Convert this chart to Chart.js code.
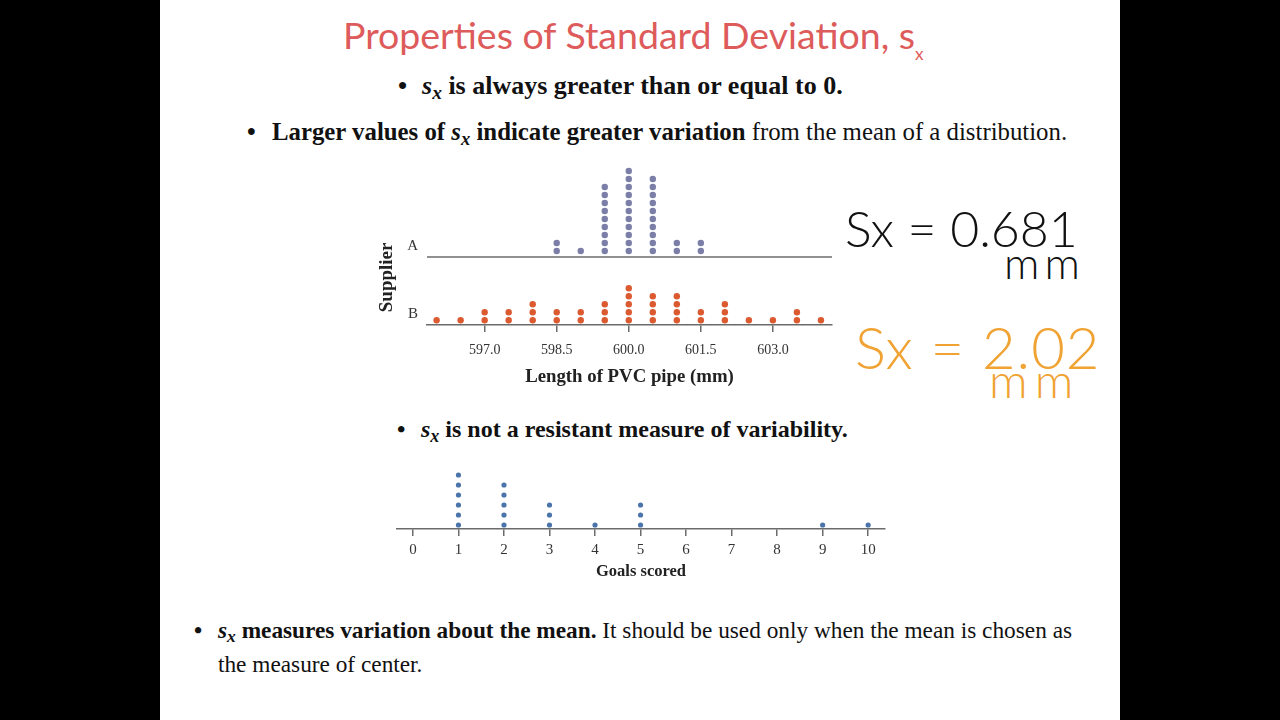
<!DOCTYPE html>
<html>
<head>
<meta charset="utf-8">
<script src="https://cdn.jsdelivr.net/npm/chart.js@4.4.0/dist/chart.umd.min.js"></script>
<style>
html, body { margin: 0; padding: 0; background: #000; width: 1280px; height: 720px; overflow: hidden; }
#slide { position: absolute; left: 160px; top: 0; width: 960px; height: 720px; background: #fff; }
.t { position: absolute; white-space: nowrap; font-family: "Liberation Serif", serif; color: #111; line-height: 1; }
.b { font-weight: bold; }
.t sub { font-size: 0.75em; line-height: 0; vertical-align: -0.25em; }
.hand { position: absolute; white-space: pre; font-family: Lato, sans-serif; font-weight: 300; }
#sdA { left: 845px; top: 211px; font-size: 44px; line-height: 34px; color: #111; letter-spacing: 5px; padding-left: 159px; text-indent: -159px; }
#sdA::first-line { font-size: 50px; letter-spacing: 0; }
#sdB { left: 855px; top: 330px; font-size: 48px; line-height: 33px; color: #f0a232; letter-spacing: 7px; padding-left: 134px; text-indent: -134px; }
#sdB::first-line { font-size: 58px; letter-spacing: 1px; }
.box { position: absolute; }
</style>
</head>
<body>
<div id="slide"></div>

<div class="t" style="left:343px;top:16px;font-family:Lato,sans-serif;font-size:37.5px;color:#de5b5b;">Properties of Standard Deviation, s<sub style="font-size:17px;vertical-align:-11px;">x</sub></div>

<div class="t b" style="left:398px;top:73px;font-size:26px;">•</div>
<div class="t b" style="left:422px;top:73px;font-size:26px;"><i>s<sub>x</sub></i> is always greater than or equal to 0.</div>

<div class="t b" style="left:247px;top:120px;font-size:24.8px;">•</div>
<div class="t" style="left:272px;top:120px;font-size:24.8px;"><b>Larger values of <i>s<sub>x</sub></i> indicate greater variation</b> from the mean of a distribution.</div>

<div class="t b" style="left:397px;top:417px;font-size:24px;">•</div>
<div class="t b" style="left:421px;top:417px;font-size:24px;"><i>s<sub>x</sub></i> is not a resistant measure of variability.</div>

<div class="t b" style="left:194px;top:619px;font-size:23.3px;">•</div>
<div class="t" style="left:218px;top:619px;font-size:23.3px;"><b><i>s<sub>x</sub></i> measures variation about the mean.</b> It should be used only when the mean is chosen as</div>
<div class="t" style="left:218px;top:653px;font-size:23.3px;">the measure of center.</div>

<div class="hand" id="sdA">Sx = 0.681
mm</div>
<div class="hand" id="sdB">Sx = 2.02
mm</div>

<div class="box" style="left:370px;top:160px;width:470px;height:240px;"><canvas id="pipeChart"></canvas></div>
<div class="box" style="left:390px;top:460px;width:510px;height:130px;"><canvas id="goalsChart"></canvas></div>

<script>
// pipe lengths (mm) and how many pipes of each length
const supplierALengths = [598.5, 599.0, 599.5, 600.0, 600.5, 601.0, 601.5];
const supplierACounts = [2, 1, 9, 11, 10, 2, 2];
const supplierBLengths = [596.0, 596.5, 597.0, 597.5, 598.0, 598.5, 599.0, 599.5, 600.0, 600.5, 601.0, 601.5, 602.0, 602.5, 603.0, 603.5, 604.0];
const supplierBCounts = [1, 1, 2, 2, 3, 2, 2, 3, 5, 4, 4, 2, 3, 1, 1, 2, 1];
const pipeTicks = [597.0, 598.5, 600.0, 601.5, 603.0];
const supplierLabels = ['B', 'A'];

// goals scored
const goalValues = [0, 1, 2, 3, 4, 5, 6, 7, 8, 9, 10];
const goalCounts = [0, 6, 5, 3, 1, 3, 0, 0, 0, 1, 1];

const ROW_GAP = 8.5;
const serif = 'Liberation Serif';

function stackDots(values, counts, base, lift) {
    var pts = [];
    values.forEach(function (v, i) {
        for (var k = 0; k < counts[i]; k++) pts.push({ x: v, y: base + lift + k });
    });
    return pts;
}

// baseline under supplier A + the "Supplier" axis title
const rowLines = {
    id: 'rowLines',
    beforeDatasetsDraw(chart) {
        const { ctx, chartArea, scales } = chart;
        supplierLabels.forEach(function (l, i) {
            if (i === 0) return;
            const y = scales.y.getPixelForValue(i * ROW_GAP);
            ctx.save();
            ctx.strokeStyle = '#6b6b6b';
            ctx.lineWidth = 1.5;
            ctx.beginPath();
            ctx.moveTo(chartArea.left, y);
            ctx.lineTo(chartArea.right, y);
            ctx.stroke();
            ctx.restore();
        });
        ctx.save();
        ctx.translate(scales.y.left + 17, scales.y.getPixelForValue(ROW_GAP * 0.7));
        ctx.rotate(-Math.PI / 2);
        ctx.font = 'bold 19px "Liberation Serif"';
        ctx.fillStyle = '#222';
        ctx.textAlign = 'center';
        ctx.textBaseline = 'middle';
        ctx.fillText('Supplier', 0, 0);
        ctx.restore();
    }
};

function noEdgePadding(s) {
    s.paddingTop = 0;
    s.paddingBottom = 0;
}

new Chart(document.getElementById('pipeChart'), {
    type: 'scatter',
    data: {
        datasets: [{
            label: 'A',
            data: stackDots(supplierALengths, supplierACounts, ROW_GAP, 0.75),
            backgroundColor: '#7b7ea6',
            borderWidth: 0,
            pointRadius: 3.2
        }, {
            label: 'B',
            data: stackDots(supplierBLengths, supplierBCounts, 0, 0.6),
            backgroundColor: '#db5a30',
            borderWidth: 0,
            pointRadius: 3.2
        }]
    },
    options: {
        responsive: true,
        maintainAspectRatio: false,
        animation: false,
        layout: { padding: { top: 5, right: 8, left: 0, bottom: 0 } },
        plugins: { legend: { display: false }, tooltip: { enabled: false } },
        scales: {
            x: {
                type: 'linear',
                min: 595.8,
                max: 604.23,
                afterBuildTicks: function (s) { s.ticks = pipeTicks.map(function (v) { return { value: v }; }); },
                afterFit: function (s) { s.height = 75; },
                border: { color: '#6b6b6b', width: 1.5 },
                grid: { drawOnChartArea: false, drawTicks: true, tickLength: 7, color: '#6b6b6b', lineWidth: 1.5 },
                ticks: {
                    color: '#333', padding: 10, autoSkip: false, maxRotation: 0,
                    font: { family: serif, size: 14 },
                    callback: function (v) { return v.toFixed(1); }
                },
                title: {
                    display: true, text: 'Length of PVC pipe (mm)', color: '#222',
                    font: { family: serif, size: 18.8, weight: 'bold' },
                    padding: { top: 0, bottom: 12 }
                }
            },
            y: {
                type: 'linear',
                min: 0,
                max: 20,
                afterBuildTicks: function (s) { s.ticks = supplierLabels.map(function (l, i) { return { value: i * ROW_GAP + 1.35 }; }); },
                afterFit: function (s) { s.width = 57; noEdgePadding(s); },
                border: { display: false },
                grid: { display: false, drawTicks: false },
                ticks: {
                    color: '#333', padding: 9,
                    font: { family: serif, size: 15 },
                    callback: function (v, i) { return supplierLabels[i]; }
                }
            }
        }
    },
    plugins: [rowLines]
});

new Chart(document.getElementById('goalsChart'), {
    type: 'scatter',
    data: {
        datasets: [{
            label: 'Goals',
            data: stackDots(goalValues, goalCounts, 0, 0.4),
            backgroundColor: '#4a74aa',
            borderWidth: 0,
            pointRadius: 2.6
        }]
    },
    options: {
        responsive: true,
        maintainAspectRatio: false,
        animation: false,
        layout: { padding: { top: 4, right: 15, left: 7, bottom: 0 } },
        plugins: { legend: { display: false }, tooltip: { enabled: false } },
        scales: {
            x: {
                type: 'linear',
                min: -0.35,
                max: 10.37,
                afterBuildTicks: function (s) { s.ticks = goalValues.map(function (v) { return { value: v }; }); },
                afterFit: function (s) { s.height = 61; },
                border: { color: '#6b6b6b', width: 1.5 },
                grid: { drawOnChartArea: false, drawTicks: true, tickLength: 7, color: '#6b6b6b', lineWidth: 1.5 },
                ticks: {
                    color: '#333', padding: 5, autoSkip: false, maxRotation: 0,
                    font: { family: serif, size: 15 }
                },
                title: {
                    display: true, text: 'Goals scored', color: '#222',
                    font: { family: serif, size: 16.5, weight: 'bold' },
                    padding: { top: 0, bottom: 8 }
                }
            },
            y: { display: false, min: 0, max: 6.5, afterFit: noEdgePadding }
        }
    }
});
</script>
</body>
</html>
